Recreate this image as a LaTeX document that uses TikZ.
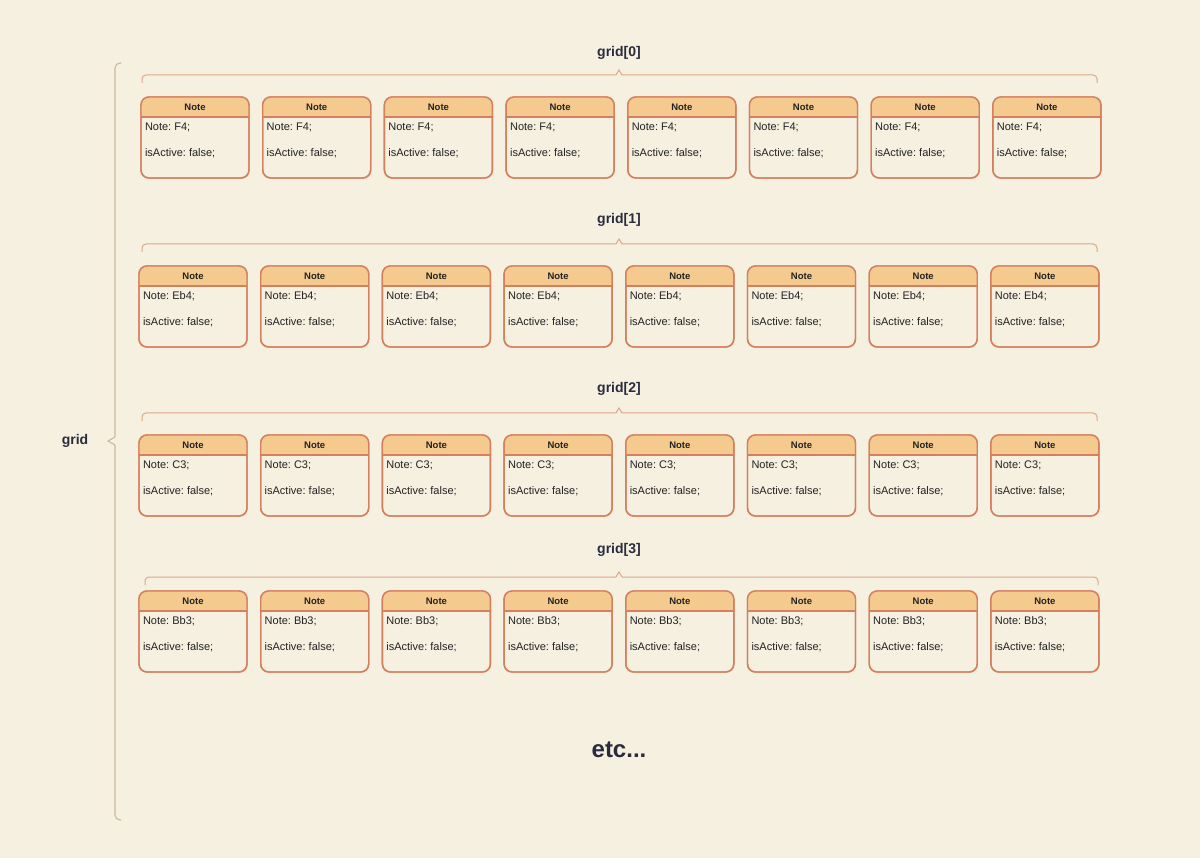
\documentclass[tikz,border=0pt]{standalone}
\usepackage{fontspec}
\setmainfont{Liberation Sans}
\frenchspacing
\begin{document}
\begin{tikzpicture}[x=1pt,y=-1pt,
  every node/.style={inner sep=0pt, outer sep=0pt},
  notebox/.style={draw=boxline, line width=1.4pt, rounded corners=8pt, minimum width=108pt, minimum height=81pt, anchor=north west},
  headtext/.style={font=\fontsize{9.5}{11}\selectfont\bfseries, text=darktext},
  bodytext/.style={font=\fontsize{11}{13}\selectfont, text=darktext, anchor=west},
  rowlabel/.style={font=\fontsize{14}{16}\selectfont\bfseries, text=labeltext},
  rowbrace/.style={draw=bracecol, line width=1pt},
  bigbrace/.style={draw=bigbracecol, line width=1.1pt}]
\definecolor{bg}{HTML}{F5F0E0}
\definecolor{boxline}{HTML}{D4805F}
\definecolor{headfill}{HTML}{F4CA8E}
\definecolor{darktext}{HTML}{222222}
\definecolor{labeltext}{HTML}{2A2C3E}
\definecolor{bracecol}{HTML}{DDA789}
\definecolor{bigbracecol}{HTML}{CDB89C}
\fill[bg] (0,0) rectangle (1200,858);
\useasboundingbox (0,0) rectangle (1200,858);

% rows: index / x start / y top / note / label y / brace y / brace x0 / brace x1
\foreach \r/\xs/\yt/\nt/\ly/\by/\bxa/\bxb in {0/141/97/F4/53/75/142/1097, 1/139/266/Eb4/220/244/142/1097, 2/139/435/C3/389/413/142/1097, 3/139/591/Bb3/550/577/145/1098}{
  \node[rowlabel] (lab\r) at (619,\ly) {grid[\r]};
  \coordinate (bl\r) at (\bxa,\by+8);
  \coordinate (br\r) at (\bxb,\by+8);
  \coordinate (bm\r) at (619,\by-5);
  \draw[rowbrace, rounded corners=4pt] (bl\r) |- (616,\by);
  \draw[rowbrace] (616,\by) -- (bm\r) -- (622,\by);
  \draw[rowbrace, rounded corners=4pt] (622,\by) -| (br\r);
  \foreach \c in {0,...,7}{
    \pgfmathsetmacro{\xx}{\xs+121.7*\c}
    \node[notebox] (n\r\c) at (\xx,\yt) {};
    \begin{scope}
      \clip[rounded corners=8pt] (n\r\c.north west) rectangle (n\r\c.south east);
      \fill[headfill] (n\r\c.north west) rectangle ([yshift=-20pt]n\r\c.north east);
    \end{scope}
    \draw[boxline, line width=1.4pt] ([yshift=-20pt]n\r\c.north west) -- ([yshift=-20pt]n\r\c.north east);
    \draw[boxline, line width=1.4pt, rounded corners=8pt] (n\r\c.north west) rectangle (n\r\c.south east);
    \node[headtext] (h\r\c) at ([yshift=-10pt]n\r\c.north) {Note};
    \node[bodytext] (a\r\c) at ([xshift=4pt,yshift=-30pt]n\r\c.north west) {Note: \nt;};
    \node[bodytext] (b\r\c) at ([xshift=4pt,yshift=-56pt]n\r\c.north west) {isActive: false;};
  }
}

% big left brace
\coordinate (gt) at (121,63);
\coordinate (gb) at (121,820);
\coordinate (gm) at (108,441);
\draw[bigbrace, rounded corners=5pt] (gt) -| (115,437);
\draw[bigbrace] (115,437) -- (gm) -- (115,445);
\draw[bigbrace, rounded corners=5pt] (115,445) |- (gb);
\node[rowlabel] (grid) at (75,441) {grid};

\node[font=\fontsize{24}{28}\selectfont\bfseries, text=labeltext] (etc) at (619,750) {etc...};
\end{tikzpicture}
\end{document}
